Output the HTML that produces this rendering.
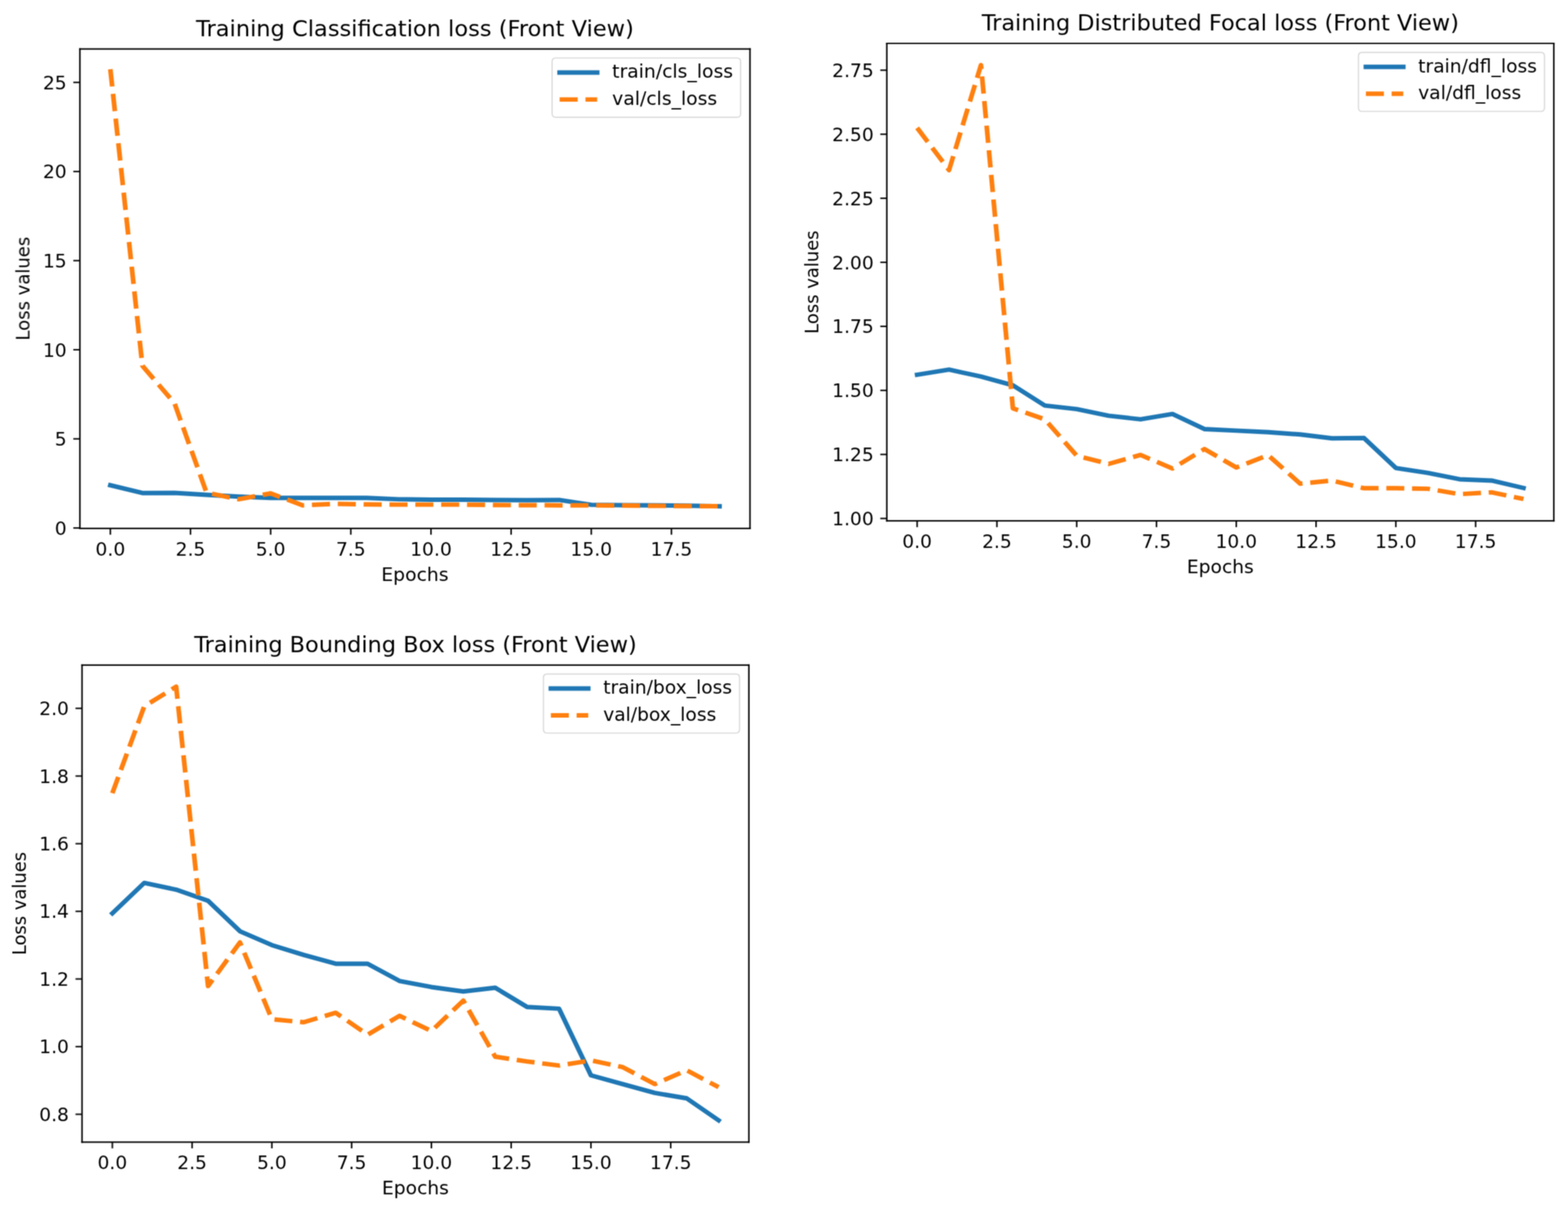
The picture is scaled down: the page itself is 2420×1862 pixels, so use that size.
<!DOCTYPE html>
<html><head><meta charset="utf-8"><title>Training losses</title>
<style>html,body{margin:0;padding:0;background:#fff;} body{width:2420px;height:1862px;overflow:hidden;} svg text{font-family:"DejaVu Sans","Liberation Sans",sans-serif;}</style>
</head><body><div id="wrap">
<svg id="fig" width="2420" height="1862" viewBox="0 0 2420 1862">
<defs><filter id="soft" x="0" y="0" width="2420" height="1862" filterUnits="userSpaceOnUse" color-interpolation-filters="sRGB"><feConvolveMatrix order="3" kernelMatrix="1 2 1 2 4 2 1 2 1" divisor="16" edgeMode="none"/></filter></defs>
<rect width="2420" height="1862" fill="#fff"/>
<g filter="url(#soft)">
<svg x="-43.51" y="-39.76" width="1334.45" height="961.30" viewBox="0 0 460.8 345.6" preserveAspectRatio="none" overflow="visible">
 <defs>
  <style type="text/css">*{stroke-linejoin: round; stroke-linecap: butt}</style>
 </defs>
 <g id="A1figure_1">
  <g id="A1axes_1">
   <g id="A1patch_1">
    <path d="M 57.6 307.584 
L 414.72 307.584 
L 414.72 41.472 
L 57.6 41.472 
L 57.6 307.584 
z
" style="fill: none"/>
   </g>
   <g id="A1matplotlib.axis_1">
    <g id="A1xtick_1">
     <g id="A1line2d_1">
      <defs>
       <path id="A1m1504cfccaf" d="M 0 0 
L 0 3.5 
" style="stroke: #000000; stroke-width: 0.8"/>
      </defs>
      <g>
       <use xlink:href="#A1m1504cfccaf" x="73.832727" y="307.584" style="stroke: #000000; stroke-width: 0.8"/>
      </g>
     </g>
     <g id="A1text_1">
      <text style="font-size: 10px; font-family: 'DejaVu Sans', sans-serif; text-anchor: middle" x="73.832727" y="322.582437" transform="rotate(-0 73.832727 322.582437)">0.0</text>
     </g>
    </g>
    <g id="A1xtick_2">
     <g id="A1line2d_2">
      <g>
       <use xlink:href="#A1m1504cfccaf" x="116.550431" y="307.584" style="stroke: #000000; stroke-width: 0.8"/>
      </g>
     </g>
     <g id="A1text_2">
      <text style="font-size: 10px; font-family: 'DejaVu Sans', sans-serif; text-anchor: middle" x="116.550431" y="322.582437" transform="rotate(-0 116.550431 322.582437)">2.5</text>
     </g>
    </g>
    <g id="A1xtick_3">
     <g id="A1line2d_3">
      <g>
       <use xlink:href="#A1m1504cfccaf" x="159.268134" y="307.584" style="stroke: #000000; stroke-width: 0.8"/>
      </g>
     </g>
     <g id="A1text_3">
      <text style="font-size: 10px; font-family: 'DejaVu Sans', sans-serif; text-anchor: middle" x="159.268134" y="322.582437" transform="rotate(-0 159.268134 322.582437)">5.0</text>
     </g>
    </g>
    <g id="A1xtick_4">
     <g id="A1line2d_4">
      <g>
       <use xlink:href="#A1m1504cfccaf" x="201.985837" y="307.584" style="stroke: #000000; stroke-width: 0.8"/>
      </g>
     </g>
     <g id="A1text_4">
      <text style="font-size: 10px; font-family: 'DejaVu Sans', sans-serif; text-anchor: middle" x="201.985837" y="322.582437" transform="rotate(-0 201.985837 322.582437)">7.5</text>
     </g>
    </g>
    <g id="A1xtick_5">
     <g id="A1line2d_5">
      <g>
       <use xlink:href="#A1m1504cfccaf" x="244.703541" y="307.584" style="stroke: #000000; stroke-width: 0.8"/>
      </g>
     </g>
     <g id="A1text_5">
      <text style="font-size: 10px; font-family: 'DejaVu Sans', sans-serif; text-anchor: middle" x="244.703541" y="322.582437" transform="rotate(-0 244.703541 322.582437)">10.0</text>
     </g>
    </g>
    <g id="A1xtick_6">
     <g id="A1line2d_6">
      <g>
       <use xlink:href="#A1m1504cfccaf" x="287.421244" y="307.584" style="stroke: #000000; stroke-width: 0.8"/>
      </g>
     </g>
     <g id="A1text_6">
      <text style="font-size: 10px; font-family: 'DejaVu Sans', sans-serif; text-anchor: middle" x="287.421244" y="322.582437" transform="rotate(-0 287.421244 322.582437)">12.5</text>
     </g>
    </g>
    <g id="A1xtick_7">
     <g id="A1line2d_7">
      <g>
       <use xlink:href="#A1m1504cfccaf" x="330.138947" y="307.584" style="stroke: #000000; stroke-width: 0.8"/>
      </g>
     </g>
     <g id="A1text_7">
      <text style="font-size: 10px; font-family: 'DejaVu Sans', sans-serif; text-anchor: middle" x="330.138947" y="322.582437" transform="rotate(-0 330.138947 322.582437)">15.0</text>
     </g>
    </g>
    <g id="A1xtick_8">
     <g id="A1line2d_8">
      <g>
       <use xlink:href="#A1m1504cfccaf" x="372.856651" y="307.584" style="stroke: #000000; stroke-width: 0.8"/>
      </g>
     </g>
     <g id="A1text_8">
      <text style="font-size: 10px; font-family: 'DejaVu Sans', sans-serif; text-anchor: middle" x="372.856651" y="322.582437" transform="rotate(-0 372.856651 322.582437)">17.5</text>
     </g>
    </g>
    <g id="A1text_9">
     <text style="font-size: 10px; font-family: 'DejaVu Sans', sans-serif; text-anchor: middle" x="236.16" y="336.760562" transform="rotate(-0 236.16 336.760562)">Epochs</text>
    </g>
   </g>
   <g id="A1matplotlib.axis_2">
    <g id="A1ytick_1">
     <g id="A1line2d_9">
      <defs>
       <path id="A1m5d545ce8f8" d="M 0 0 
L -3.5 0 
" style="stroke: #000000; stroke-width: 0.8"/>
      </defs>
      <g>
       <use xlink:href="#A1m5d545ce8f8" x="57.6" y="307.356461" style="stroke: #000000; stroke-width: 0.8"/>
      </g>
     </g>
     <g id="A1text_10">
      <text style="font-size: 10px; font-family: 'DejaVu Sans', sans-serif; text-anchor: end" x="50.6" y="311.15568" transform="rotate(-0 50.6 311.15568)">0</text>
     </g>
    </g>
    <g id="A1ytick_2">
     <g id="A1line2d_10">
      <g>
       <use xlink:href="#A1m5d545ce8f8" x="57.6" y="257.891425" style="stroke: #000000; stroke-width: 0.8"/>
      </g>
     </g>
     <g id="A1text_11">
      <text style="font-size: 10px; font-family: 'DejaVu Sans', sans-serif; text-anchor: end" x="50.6" y="261.690644" transform="rotate(-0 50.6 261.690644)">5</text>
     </g>
    </g>
    <g id="A1ytick_3">
     <g id="A1line2d_11">
      <g>
       <use xlink:href="#A1m5d545ce8f8" x="57.6" y="208.426389" style="stroke: #000000; stroke-width: 0.8"/>
      </g>
     </g>
     <g id="A1text_12">
      <text style="font-size: 10px; font-family: 'DejaVu Sans', sans-serif; text-anchor: end" x="50.6" y="212.225608" transform="rotate(-0 50.6 212.225608)">10</text>
     </g>
    </g>
    <g id="A1ytick_4">
     <g id="A1line2d_12">
      <g>
       <use xlink:href="#A1m5d545ce8f8" x="57.6" y="158.961353" style="stroke: #000000; stroke-width: 0.8"/>
      </g>
     </g>
     <g id="A1text_13">
      <text style="font-size: 10px; font-family: 'DejaVu Sans', sans-serif; text-anchor: end" x="50.6" y="162.760572" transform="rotate(-0 50.6 162.760572)">15</text>
     </g>
    </g>
    <g id="A1ytick_5">
     <g id="A1line2d_13">
      <g>
       <use xlink:href="#A1m5d545ce8f8" x="57.6" y="109.496317" style="stroke: #000000; stroke-width: 0.8"/>
      </g>
     </g>
     <g id="A1text_14">
      <text style="font-size: 10px; font-family: 'DejaVu Sans', sans-serif; text-anchor: end" x="50.6" y="113.295536" transform="rotate(-0 50.6 113.295536)">20</text>
     </g>
    </g>
    <g id="A1ytick_6">
     <g id="A1line2d_14">
      <g>
       <use xlink:href="#A1m5d545ce8f8" x="57.6" y="60.031281" style="stroke: #000000; stroke-width: 0.8"/>
      </g>
     </g>
     <g id="A1text_15">
      <text style="font-size: 10px; font-family: 'DejaVu Sans', sans-serif; text-anchor: end" x="50.6" y="63.8305" transform="rotate(-0 50.6 63.8305)">25</text>
     </g>
    </g>
    <g id="A1text_16">
     <text style="font-size: 10px; font-family: 'DejaVu Sans', sans-serif; text-anchor: middle" x="30.595312" y="174.528" transform="rotate(-90 30.595312 174.528)">Loss values</text>
    </g>
   </g>
   <g id="A1line2d_15">
    <path d="M 73.832727 283.613244 
L 90.919809 287.966167 
L 108.00689 287.867237 
L 125.093971 288.955467 
L 142.181053 289.944768 
L 159.268134 290.637279 
L 176.355215 290.686744 
L 193.442297 290.686744 
L 210.529378 290.686744 
L 227.616459 291.428719 
L 244.703541 291.626579 
L 261.790622 291.626579 
L 278.877703 291.804654 
L 295.964785 291.92337 
L 313.051866 291.804654 
L 330.138947 294.495552 
L 347.226029 294.693412 
L 364.31311 294.792342 
L 381.400191 294.990202 
L 398.487273 295.286992 
" clip-path="url(#A1p02d3b5d28d)" style="fill: none; stroke: #1f77b4; stroke-width: 2.5; stroke-linecap: square"/>
   </g>
   <g id="A1line2d_16">
    <path d="M 73.832727 52.710456 
L 90.919809 217.330096 
L 108.00689 238.105411 
L 125.093971 287.768307 
L 142.181053 291.428719 
L 159.268134 288.164027 
L 176.355215 294.792342 
L 193.442297 294.000901 
L 210.529378 294.297691 
L 227.616459 294.396621 
L 244.703541 294.396621 
L 261.790622 294.396621 
L 278.877703 294.643947 
L 295.964785 294.693412 
L 313.051866 294.792342 
L 330.138947 294.792342 
L 347.226029 294.891272 
L 364.31311 295.089132 
L 381.400191 295.188062 
L 398.487273 295.286992 
" clip-path="url(#A1p02d3b5d28d)" style="fill: none; stroke-dasharray: 9.625,4.15; stroke-dashoffset: 0; stroke: #ff7f0e; stroke-width: 2.5"/>
   </g>
   <g id="A1patch_2">
    <path d="M 57.6 307.584 
L 57.6 41.472 
" style="fill: none; stroke: #000000; stroke-width: 0.8; stroke-linejoin: miter; stroke-linecap: square"/>
   </g>
   <g id="A1patch_3">
    <path d="M 414.72 307.584 
L 414.72 41.472 
" style="fill: none; stroke: #000000; stroke-width: 0.8; stroke-linejoin: miter; stroke-linecap: square"/>
   </g>
   <g id="A1patch_4">
    <path d="M 57.6 307.584 
L 414.72 307.584 
" style="fill: none; stroke: #000000; stroke-width: 0.8; stroke-linejoin: miter; stroke-linecap: square"/>
   </g>
   <g id="A1patch_5">
    <path d="M 57.6 41.472 
L 414.72 41.472 
" style="fill: none; stroke: #000000; stroke-width: 0.8; stroke-linejoin: miter; stroke-linecap: square"/>
   </g>
   <g id="A1text_17">
    <text style="font-size: 12px; font-family: 'DejaVu Sans', sans-serif; text-anchor: middle" x="236.16" y="34.372" transform="rotate(-0 236.16 34.372)">Training Classification loss (Front View)</text>
   </g>
   <g id="A1legend_1">
    <g id="A1patch_6">
     <path d="M 311.274688 79.3845 
L 407.72 79.3845 
Q 409.72 79.3845 409.72 77.3845 
L 409.72 48.472 
Q 409.72 46.472 407.72 46.472 
L 311.274688 46.472 
Q 309.274688 46.472 309.274688 48.472 
L 309.274688 77.3845 
Q 309.274688 79.3845 311.274688 79.3845 
z
" style="fill: #ffffff; opacity: 0.8; stroke: #cccccc; stroke-width: 0.6; stroke-linejoin: miter"/>
    </g>
    <g id="A1line2d_17">
     <path d="M 313.274688 54.570438 
L 323.274688 54.570438 
L 333.274688 54.570438 
" style="fill: none; stroke: #1f77b4; stroke-width: 2.5; stroke-linecap: square"/>
    </g>
    <g id="A1text_18">
     <text style="font-size: 10px; font-family: 'DejaVu Sans', sans-serif; text-anchor: start" x="341.274688" y="57.570438" transform="rotate(-0 341.274688 57.570438)">train/cls_loss</text>
    </g>
    <g id="A1line2d_18">
     <path d="M 313.274688 69.526688 
L 323.274688 69.526688 
L 333.274688 69.526688 
" style="fill: none; stroke-dasharray: 9.625,4.15; stroke-dashoffset: 0; stroke: #ff7f0e; stroke-width: 2.5"/>
    </g>
    <g id="A1text_19">
     <text style="font-size: 10px; font-family: 'DejaVu Sans', sans-serif; text-anchor: start" x="341.274688" y="72.526688" transform="rotate(-0 341.274688 72.526688)">val/cls_loss</text>
    </g>
   </g>
  </g>
 </g>
 <defs>
  <clipPath id="A1p02d3b5d28d">
   <rect x="57.6" y="41.472" width="357.12" height="266.112"/>
  </clipPath>
 </defs>
</svg>
<svg x="1202.67" y="-47.89" width="1328.26" height="957.40" viewBox="0 0 460.8 345.6" preserveAspectRatio="none" overflow="visible">
 <defs>
  <style type="text/css">*{stroke-linejoin: round; stroke-linecap: butt}</style>
 </defs>
 <g id="A2figure_1">
  <g id="A2axes_1">
   <g id="A2patch_1">
    <path d="M 57.6 307.584 
L 414.72 307.584 
L 414.72 41.472 
L 57.6 41.472 
L 57.6 307.584 
z
" style="fill: none"/>
   </g>
   <g id="A2matplotlib.axis_1">
    <g id="A2xtick_1">
     <g id="A2line2d_1">
      <defs>
       <path id="A2m1504cfccaf" d="M 0 0 
L 0 3.5 
" style="stroke: #000000; stroke-width: 0.8"/>
      </defs>
      <g>
       <use xlink:href="#A2m1504cfccaf" x="73.832727" y="307.584" style="stroke: #000000; stroke-width: 0.8"/>
      </g>
     </g>
     <g id="A2text_1">
      <text style="font-size: 10px; font-family: 'DejaVu Sans', sans-serif; text-anchor: middle" x="73.832727" y="322.582437" transform="rotate(-0 73.832727 322.582437)">0.0</text>
     </g>
    </g>
    <g id="A2xtick_2">
     <g id="A2line2d_2">
      <g>
       <use xlink:href="#A2m1504cfccaf" x="116.550431" y="307.584" style="stroke: #000000; stroke-width: 0.8"/>
      </g>
     </g>
     <g id="A2text_2">
      <text style="font-size: 10px; font-family: 'DejaVu Sans', sans-serif; text-anchor: middle" x="116.550431" y="322.582437" transform="rotate(-0 116.550431 322.582437)">2.5</text>
     </g>
    </g>
    <g id="A2xtick_3">
     <g id="A2line2d_3">
      <g>
       <use xlink:href="#A2m1504cfccaf" x="159.268134" y="307.584" style="stroke: #000000; stroke-width: 0.8"/>
      </g>
     </g>
     <g id="A2text_3">
      <text style="font-size: 10px; font-family: 'DejaVu Sans', sans-serif; text-anchor: middle" x="159.268134" y="322.582437" transform="rotate(-0 159.268134 322.582437)">5.0</text>
     </g>
    </g>
    <g id="A2xtick_4">
     <g id="A2line2d_4">
      <g>
       <use xlink:href="#A2m1504cfccaf" x="201.985837" y="307.584" style="stroke: #000000; stroke-width: 0.8"/>
      </g>
     </g>
     <g id="A2text_4">
      <text style="font-size: 10px; font-family: 'DejaVu Sans', sans-serif; text-anchor: middle" x="201.985837" y="322.582437" transform="rotate(-0 201.985837 322.582437)">7.5</text>
     </g>
    </g>
    <g id="A2xtick_5">
     <g id="A2line2d_5">
      <g>
       <use xlink:href="#A2m1504cfccaf" x="244.703541" y="307.584" style="stroke: #000000; stroke-width: 0.8"/>
      </g>
     </g>
     <g id="A2text_5">
      <text style="font-size: 10px; font-family: 'DejaVu Sans', sans-serif; text-anchor: middle" x="244.703541" y="322.582437" transform="rotate(-0 244.703541 322.582437)">10.0</text>
     </g>
    </g>
    <g id="A2xtick_6">
     <g id="A2line2d_6">
      <g>
       <use xlink:href="#A2m1504cfccaf" x="287.421244" y="307.584" style="stroke: #000000; stroke-width: 0.8"/>
      </g>
     </g>
     <g id="A2text_6">
      <text style="font-size: 10px; font-family: 'DejaVu Sans', sans-serif; text-anchor: middle" x="287.421244" y="322.582437" transform="rotate(-0 287.421244 322.582437)">12.5</text>
     </g>
    </g>
    <g id="A2xtick_7">
     <g id="A2line2d_7">
      <g>
       <use xlink:href="#A2m1504cfccaf" x="330.138947" y="307.584" style="stroke: #000000; stroke-width: 0.8"/>
      </g>
     </g>
     <g id="A2text_7">
      <text style="font-size: 10px; font-family: 'DejaVu Sans', sans-serif; text-anchor: middle" x="330.138947" y="322.582437" transform="rotate(-0 330.138947 322.582437)">15.0</text>
     </g>
    </g>
    <g id="A2xtick_8">
     <g id="A2line2d_8">
      <g>
       <use xlink:href="#A2m1504cfccaf" x="372.856651" y="307.584" style="stroke: #000000; stroke-width: 0.8"/>
      </g>
     </g>
     <g id="A2text_8">
      <text style="font-size: 10px; font-family: 'DejaVu Sans', sans-serif; text-anchor: middle" x="372.856651" y="322.582437" transform="rotate(-0 372.856651 322.582437)">17.5</text>
     </g>
    </g>
    <g id="A2text_9">
     <text style="font-size: 10px; font-family: 'DejaVu Sans', sans-serif; text-anchor: middle" x="236.16" y="336.760562" transform="rotate(-0 236.16 336.760562)">Epochs</text>
    </g>
   </g>
   <g id="A2matplotlib.axis_2">
    <g id="A2ytick_1">
     <g id="A2line2d_9">
      <defs>
       <path id="A2m5d545ce8f8" d="M 0 0 
L -3.5 0 
" style="stroke: #000000; stroke-width: 0.8"/>
      </defs>
      <g>
       <use xlink:href="#A2m5d545ce8f8" x="57.6" y="306.247701" style="stroke: #000000; stroke-width: 0.8"/>
      </g>
     </g>
     <g id="A2text_10">
      <text style="font-size: 10px; font-family: 'DejaVu Sans', sans-serif; text-anchor: end" x="50.6" y="310.04692" transform="rotate(-0 50.6 310.04692)">1.00</text>
     </g>
    </g>
    <g id="A2ytick_2">
     <g id="A2line2d_10">
      <g>
       <use xlink:href="#A2m5d545ce8f8" x="57.6" y="270.555948" style="stroke: #000000; stroke-width: 0.8"/>
      </g>
     </g>
     <g id="A2text_11">
      <text style="font-size: 10px; font-family: 'DejaVu Sans', sans-serif; text-anchor: end" x="50.6" y="274.355166" transform="rotate(-0 50.6 274.355166)">1.25</text>
     </g>
    </g>
    <g id="A2ytick_3">
     <g id="A2line2d_11">
      <g>
       <use xlink:href="#A2m5d545ce8f8" x="57.6" y="234.864195" style="stroke: #000000; stroke-width: 0.8"/>
      </g>
     </g>
     <g id="A2text_12">
      <text style="font-size: 10px; font-family: 'DejaVu Sans', sans-serif; text-anchor: end" x="50.6" y="238.663413" transform="rotate(-0 50.6 238.663413)">1.50</text>
     </g>
    </g>
    <g id="A2ytick_4">
     <g id="A2line2d_12">
      <g>
       <use xlink:href="#A2m5d545ce8f8" x="57.6" y="199.172442" style="stroke: #000000; stroke-width: 0.8"/>
      </g>
     </g>
     <g id="A2text_13">
      <text style="font-size: 10px; font-family: 'DejaVu Sans', sans-serif; text-anchor: end" x="50.6" y="202.97166" transform="rotate(-0 50.6 202.97166)">1.75</text>
     </g>
    </g>
    <g id="A2ytick_5">
     <g id="A2line2d_13">
      <g>
       <use xlink:href="#A2m5d545ce8f8" x="57.6" y="163.480689" style="stroke: #000000; stroke-width: 0.8"/>
      </g>
     </g>
     <g id="A2text_14">
      <text style="font-size: 10px; font-family: 'DejaVu Sans', sans-serif; text-anchor: end" x="50.6" y="167.279907" transform="rotate(-0 50.6 167.279907)">2.00</text>
     </g>
    </g>
    <g id="A2ytick_6">
     <g id="A2line2d_14">
      <g>
       <use xlink:href="#A2m5d545ce8f8" x="57.6" y="127.788936" style="stroke: #000000; stroke-width: 0.8"/>
      </g>
     </g>
     <g id="A2text_15">
      <text style="font-size: 10px; font-family: 'DejaVu Sans', sans-serif; text-anchor: end" x="50.6" y="131.588154" transform="rotate(-0 50.6 131.588154)">2.25</text>
     </g>
    </g>
    <g id="A2ytick_7">
     <g id="A2line2d_15">
      <g>
       <use xlink:href="#A2m5d545ce8f8" x="57.6" y="92.097183" style="stroke: #000000; stroke-width: 0.8"/>
      </g>
     </g>
     <g id="A2text_16">
      <text style="font-size: 10px; font-family: 'DejaVu Sans', sans-serif; text-anchor: end" x="50.6" y="95.896401" transform="rotate(-0 50.6 95.896401)">2.50</text>
     </g>
    </g>
    <g id="A2ytick_8">
     <g id="A2line2d_16">
      <g>
       <use xlink:href="#A2m5d545ce8f8" x="57.6" y="56.405429" style="stroke: #000000; stroke-width: 0.8"/>
      </g>
     </g>
     <g id="A2text_17">
      <text style="font-size: 10px; font-family: 'DejaVu Sans', sans-serif; text-anchor: end" x="50.6" y="60.204648" transform="rotate(-0 50.6 60.204648)">2.75</text>
     </g>
    </g>
    <g id="A2text_18">
     <text style="font-size: 10px; font-family: 'DejaVu Sans', sans-serif; text-anchor: middle" x="21.054688" y="174.528" transform="rotate(-90 21.054688 174.528)">Loss values</text>
    </g>
   </g>
   <g id="A2line2d_17">
    <path d="M 73.832727 226.155407 
L 90.919809 223.300067 
L 108.00689 227.154776 
L 125.093971 232.008854 
L 142.181053 243.287448 
L 159.268134 245.286187 
L 176.355215 248.998129 
L 193.442297 250.996867 
L 210.529378 247.99876 
L 227.616459 256.422014 
L 244.703541 257.278616 
L 261.790622 258.135218 
L 278.877703 259.420121 
L 295.964785 261.561626 
L 313.051866 261.418859 
L 330.138947 278.122599 
L 347.226029 280.835173 
L 364.31311 284.404348 
L 381.400191 285.118183 
L 398.487273 289.258426 
" clip-path="url(#A2p02d3b5d28d)" style="fill: none; stroke: #1f77b4; stroke-width: 2.5; stroke-linecap: square"/>
   </g>
   <g id="A2line2d_18">
    <path d="M 73.832727 88.528007 
L 90.919809 112.084564 
L 108.00689 53.550089 
L 125.093971 244.857886 
L 142.181053 250.996867 
L 159.268134 271.269783 
L 176.355215 275.838327 
L 193.442297 270.841482 
L 210.529378 278.408133 
L 227.616459 267.55784 
L 244.703541 277.837065 
L 261.790622 270.984249 
L 278.877703 286.831387 
L 295.964785 285.118183 
L 313.051866 289.401193 
L 330.138947 289.401193 
L 347.226029 289.686727 
L 364.31311 292.684835 
L 381.400191 291.685466 
L 398.487273 295.397408 
" clip-path="url(#A2p02d3b5d28d)" style="fill: none; stroke-dasharray: 9.625,4.15; stroke-dashoffset: 0; stroke: #ff7f0e; stroke-width: 2.5"/>
   </g>
   <g id="A2patch_2">
    <path d="M 57.6 307.584 
L 57.6 41.472 
" style="fill: none; stroke: #000000; stroke-width: 0.8; stroke-linejoin: miter; stroke-linecap: square"/>
   </g>
   <g id="A2patch_3">
    <path d="M 414.72 307.584 
L 414.72 41.472 
" style="fill: none; stroke: #000000; stroke-width: 0.8; stroke-linejoin: miter; stroke-linecap: square"/>
   </g>
   <g id="A2patch_4">
    <path d="M 57.6 307.584 
L 414.72 307.584 
" style="fill: none; stroke: #000000; stroke-width: 0.8; stroke-linejoin: miter; stroke-linecap: square"/>
   </g>
   <g id="A2patch_5">
    <path d="M 57.6 41.472 
L 414.72 41.472 
" style="fill: none; stroke: #000000; stroke-width: 0.8; stroke-linejoin: miter; stroke-linecap: square"/>
   </g>
   <g id="A2text_19">
    <text style="font-size: 12px; font-family: 'DejaVu Sans', sans-serif; text-anchor: middle" x="236.16" y="34.372" transform="rotate(-0 236.16 34.372)">Training Distributed Focal loss (Front View)</text>
   </g>
   <g id="A2legend_1">
    <g id="A2patch_6">
     <path d="M 312.11375 79.3845 
L 407.72 79.3845 
Q 409.72 79.3845 409.72 77.3845 
L 409.72 48.472 
Q 409.72 46.472 407.72 46.472 
L 312.11375 46.472 
Q 310.11375 46.472 310.11375 48.472 
L 310.11375 77.3845 
Q 310.11375 79.3845 312.11375 79.3845 
z
" style="fill: #ffffff; opacity: 0.8; stroke: #cccccc; stroke-width: 0.6; stroke-linejoin: miter"/>
    </g>
    <g id="A2line2d_19">
     <path d="M 314.11375 54.570438 
L 324.11375 54.570438 
L 334.11375 54.570438 
" style="fill: none; stroke: #1f77b4; stroke-width: 2.5; stroke-linecap: square"/>
    </g>
    <g id="A2text_20">
     <text style="font-size: 10px; font-family: 'DejaVu Sans', sans-serif; text-anchor: start" x="342.11375" y="57.570438" transform="rotate(-0 342.11375 57.570438)">train/dfl_loss</text>
    </g>
    <g id="A2line2d_20">
     <path d="M 314.11375 69.526688 
L 324.11375 69.526688 
L 334.11375 69.526688 
" style="fill: none; stroke-dasharray: 9.625,4.15; stroke-dashoffset: 0; stroke: #ff7f0e; stroke-width: 2.5"/>
    </g>
    <g id="A2text_21">
     <text style="font-size: 10px; font-family: 'DejaVu Sans', sans-serif; text-anchor: start" x="342.11375" y="72.526688" transform="rotate(-0 342.11375 72.526688)">val/dfl_loss</text>
    </g>
   </g>
  </g>
 </g>
 <defs>
  <clipPath id="A2p02d3b5d28d">
   <rect x="57.6" y="41.472" width="357.12" height="266.112"/>
  </clipPath>
 </defs>
</svg>
<svg x="-39.40" y="912.02" width="1328.00" height="956.49" viewBox="0 0 460.8 345.6" preserveAspectRatio="none" overflow="visible">
 <defs>
  <style type="text/css">*{stroke-linejoin: round; stroke-linecap: butt}</style>
 </defs>
 <g id="A3figure_1">
  <g id="A3axes_1">
   <g id="A3patch_1">
    <path d="M 57.6 307.584 
L 414.72 307.584 
L 414.72 41.472 
L 57.6 41.472 
L 57.6 307.584 
z
" style="fill: none"/>
   </g>
   <g id="A3matplotlib.axis_1">
    <g id="A3xtick_1">
     <g id="A3line2d_1">
      <defs>
       <path id="A3m1504cfccaf" d="M 0 0 
L 0 3.5 
" style="stroke: #000000; stroke-width: 0.8"/>
      </defs>
      <g>
       <use xlink:href="#A3m1504cfccaf" x="73.832727" y="307.584" style="stroke: #000000; stroke-width: 0.8"/>
      </g>
     </g>
     <g id="A3text_1">
      <text style="font-size: 10px; font-family: 'DejaVu Sans', sans-serif; text-anchor: middle" x="73.832727" y="322.582437" transform="rotate(-0 73.832727 322.582437)">0.0</text>
     </g>
    </g>
    <g id="A3xtick_2">
     <g id="A3line2d_2">
      <g>
       <use xlink:href="#A3m1504cfccaf" x="116.550431" y="307.584" style="stroke: #000000; stroke-width: 0.8"/>
      </g>
     </g>
     <g id="A3text_2">
      <text style="font-size: 10px; font-family: 'DejaVu Sans', sans-serif; text-anchor: middle" x="116.550431" y="322.582437" transform="rotate(-0 116.550431 322.582437)">2.5</text>
     </g>
    </g>
    <g id="A3xtick_3">
     <g id="A3line2d_3">
      <g>
       <use xlink:href="#A3m1504cfccaf" x="159.268134" y="307.584" style="stroke: #000000; stroke-width: 0.8"/>
      </g>
     </g>
     <g id="A3text_3">
      <text style="font-size: 10px; font-family: 'DejaVu Sans', sans-serif; text-anchor: middle" x="159.268134" y="322.582437" transform="rotate(-0 159.268134 322.582437)">5.0</text>
     </g>
    </g>
    <g id="A3xtick_4">
     <g id="A3line2d_4">
      <g>
       <use xlink:href="#A3m1504cfccaf" x="201.985837" y="307.584" style="stroke: #000000; stroke-width: 0.8"/>
      </g>
     </g>
     <g id="A3text_4">
      <text style="font-size: 10px; font-family: 'DejaVu Sans', sans-serif; text-anchor: middle" x="201.985837" y="322.582437" transform="rotate(-0 201.985837 322.582437)">7.5</text>
     </g>
    </g>
    <g id="A3xtick_5">
     <g id="A3line2d_5">
      <g>
       <use xlink:href="#A3m1504cfccaf" x="244.703541" y="307.584" style="stroke: #000000; stroke-width: 0.8"/>
      </g>
     </g>
     <g id="A3text_5">
      <text style="font-size: 10px; font-family: 'DejaVu Sans', sans-serif; text-anchor: middle" x="244.703541" y="322.582437" transform="rotate(-0 244.703541 322.582437)">10.0</text>
     </g>
    </g>
    <g id="A3xtick_6">
     <g id="A3line2d_6">
      <g>
       <use xlink:href="#A3m1504cfccaf" x="287.421244" y="307.584" style="stroke: #000000; stroke-width: 0.8"/>
      </g>
     </g>
     <g id="A3text_6">
      <text style="font-size: 10px; font-family: 'DejaVu Sans', sans-serif; text-anchor: middle" x="287.421244" y="322.582437" transform="rotate(-0 287.421244 322.582437)">12.5</text>
     </g>
    </g>
    <g id="A3xtick_7">
     <g id="A3line2d_7">
      <g>
       <use xlink:href="#A3m1504cfccaf" x="330.138947" y="307.584" style="stroke: #000000; stroke-width: 0.8"/>
      </g>
     </g>
     <g id="A3text_7">
      <text style="font-size: 10px; font-family: 'DejaVu Sans', sans-serif; text-anchor: middle" x="330.138947" y="322.582437" transform="rotate(-0 330.138947 322.582437)">15.0</text>
     </g>
    </g>
    <g id="A3xtick_8">
     <g id="A3line2d_8">
      <g>
       <use xlink:href="#A3m1504cfccaf" x="372.856651" y="307.584" style="stroke: #000000; stroke-width: 0.8"/>
      </g>
     </g>
     <g id="A3text_8">
      <text style="font-size: 10px; font-family: 'DejaVu Sans', sans-serif; text-anchor: middle" x="372.856651" y="322.582437" transform="rotate(-0 372.856651 322.582437)">17.5</text>
     </g>
    </g>
    <g id="A3text_9">
     <text style="font-size: 10px; font-family: 'DejaVu Sans', sans-serif; text-anchor: middle" x="236.16" y="336.760562" transform="rotate(-0 236.16 336.760562)">Epochs</text>
    </g>
   </g>
   <g id="A3matplotlib.axis_2">
    <g id="A3ytick_1">
     <g id="A3line2d_9">
      <defs>
       <path id="A3m5d545ce8f8" d="M 0 0 
L -3.5 0 
" style="stroke: #000000; stroke-width: 0.8"/>
      </defs>
      <g>
       <use xlink:href="#A3m5d545ce8f8" x="57.6" y="292.054668" style="stroke: #000000; stroke-width: 0.8"/>
      </g>
     </g>
     <g id="A3text_10">
      <text style="font-size: 10px; font-family: 'DejaVu Sans', sans-serif; text-anchor: end" x="50.6" y="295.853886" transform="rotate(-0 50.6 295.853886)">0.8</text>
     </g>
    </g>
    <g id="A3ytick_2">
     <g id="A3line2d_10">
      <g>
       <use xlink:href="#A3m5d545ce8f8" x="57.6" y="254.316314" style="stroke: #000000; stroke-width: 0.8"/>
      </g>
     </g>
     <g id="A3text_11">
      <text style="font-size: 10px; font-family: 'DejaVu Sans', sans-serif; text-anchor: end" x="50.6" y="258.115533" transform="rotate(-0 50.6 258.115533)">1.0</text>
     </g>
    </g>
    <g id="A3ytick_3">
     <g id="A3line2d_11">
      <g>
       <use xlink:href="#A3m5d545ce8f8" x="57.6" y="216.57796" style="stroke: #000000; stroke-width: 0.8"/>
      </g>
     </g>
     <g id="A3text_12">
      <text style="font-size: 10px; font-family: 'DejaVu Sans', sans-serif; text-anchor: end" x="50.6" y="220.377179" transform="rotate(-0 50.6 220.377179)">1.2</text>
     </g>
    </g>
    <g id="A3ytick_4">
     <g id="A3line2d_12">
      <g>
       <use xlink:href="#A3m5d545ce8f8" x="57.6" y="178.839607" style="stroke: #000000; stroke-width: 0.8"/>
      </g>
     </g>
     <g id="A3text_13">
      <text style="font-size: 10px; font-family: 'DejaVu Sans', sans-serif; text-anchor: end" x="50.6" y="182.638826" transform="rotate(-0 50.6 182.638826)">1.4</text>
     </g>
    </g>
    <g id="A3ytick_5">
     <g id="A3line2d_13">
      <g>
       <use xlink:href="#A3m5d545ce8f8" x="57.6" y="141.101253" style="stroke: #000000; stroke-width: 0.8"/>
      </g>
     </g>
     <g id="A3text_14">
      <text style="font-size: 10px; font-family: 'DejaVu Sans', sans-serif; text-anchor: end" x="50.6" y="144.900472" transform="rotate(-0 50.6 144.900472)">1.6</text>
     </g>
    </g>
    <g id="A3ytick_6">
     <g id="A3line2d_14">
      <g>
       <use xlink:href="#A3m5d545ce8f8" x="57.6" y="103.3629" style="stroke: #000000; stroke-width: 0.8"/>
      </g>
     </g>
     <g id="A3text_15">
      <text style="font-size: 10px; font-family: 'DejaVu Sans', sans-serif; text-anchor: end" x="50.6" y="107.162119" transform="rotate(-0 50.6 107.162119)">1.8</text>
     </g>
    </g>
    <g id="A3ytick_7">
     <g id="A3line2d_15">
      <g>
       <use xlink:href="#A3m5d545ce8f8" x="57.6" y="65.624546" style="stroke: #000000; stroke-width: 0.8"/>
      </g>
     </g>
     <g id="A3text_16">
      <text style="font-size: 10px; font-family: 'DejaVu Sans', sans-serif; text-anchor: end" x="50.6" y="69.423765" transform="rotate(-0 50.6 69.423765)">2.0</text>
     </g>
    </g>
    <g id="A3text_17">
     <text style="font-size: 10px; font-family: 'DejaVu Sans', sans-serif; text-anchor: middle" x="27.417187" y="174.528" transform="rotate(-90 27.417187 174.528)">Loss values</text>
    </g>
   </g>
   <g id="A3line2d_16">
    <path d="M 73.832727 179.971757 
L 90.919809 162.989498 
L 108.00689 166.763334 
L 125.093971 172.990162 
L 142.181053 189.972421 
L 159.268134 197.708784 
L 176.355215 203.180845 
L 193.442297 208.086831 
L 210.529378 208.086831 
L 227.616459 217.710111 
L 244.703541 221.106563 
L 261.790622 223.559556 
L 278.877703 221.483946 
L 295.964785 232.239377 
L 313.051866 233.182836 
L 330.138947 270.355114 
L 347.226029 275.2611 
L 364.31311 280.167086 
L 381.400191 283.186154 
L 398.487273 295.451119 
" clip-path="url(#A3p02d3b5d28d)" style="fill: none; stroke: #1f77b4; stroke-width: 2.5; stroke-linecap: square"/>
   </g>
   <g id="A3line2d_17">
    <path d="M 73.832727 112.98618 
L 90.919809 64.492396 
L 108.00689 53.548273 
L 125.093971 220.540488 
L 142.181053 196.19925 
L 159.268134 239.032281 
L 176.355215 240.730507 
L 193.442297 235.447137 
L 210.529378 247.712102 
L 227.616459 237.145363 
L 244.703541 245.636493 
L 261.790622 228.654234 
L 278.877703 259.977067 
L 295.964785 262.618752 
L 313.051866 264.883053 
L 330.138947 262.052676 
L 347.226029 265.826512 
L 364.31311 275.2611 
L 381.400191 267.524738 
L 398.487273 276.959326 
" clip-path="url(#A3p02d3b5d28d)" style="fill: none; stroke-dasharray: 9.625,4.15; stroke-dashoffset: 0; stroke: #ff7f0e; stroke-width: 2.5"/>
   </g>
   <g id="A3patch_2">
    <path d="M 57.6 307.584 
L 57.6 41.472 
" style="fill: none; stroke: #000000; stroke-width: 0.8; stroke-linejoin: miter; stroke-linecap: square"/>
   </g>
   <g id="A3patch_3">
    <path d="M 414.72 307.584 
L 414.72 41.472 
" style="fill: none; stroke: #000000; stroke-width: 0.8; stroke-linejoin: miter; stroke-linecap: square"/>
   </g>
   <g id="A3patch_4">
    <path d="M 57.6 307.584 
L 414.72 307.584 
" style="fill: none; stroke: #000000; stroke-width: 0.8; stroke-linejoin: miter; stroke-linecap: square"/>
   </g>
   <g id="A3patch_5">
    <path d="M 57.6 41.472 
L 414.72 41.472 
" style="fill: none; stroke: #000000; stroke-width: 0.8; stroke-linejoin: miter; stroke-linecap: square"/>
   </g>
   <g id="A3text_18">
    <text style="font-size: 12px; font-family: 'DejaVu Sans', sans-serif; text-anchor: middle" x="236.16" y="34.372" transform="rotate(-0 236.16 34.372)">Training Bounding Box loss (Front View)</text>
   </g>
   <g id="A3legend_1">
    <g id="A3patch_6">
     <path d="M 306.687187 79.3845 
L 407.72 79.3845 
Q 409.72 79.3845 409.72 77.3845 
L 409.72 48.472 
Q 409.72 46.472 407.72 46.472 
L 306.687187 46.472 
Q 304.687187 46.472 304.687187 48.472 
L 304.687187 77.3845 
Q 304.687187 79.3845 306.687187 79.3845 
z
" style="fill: #ffffff; opacity: 0.8; stroke: #cccccc; stroke-width: 0.6; stroke-linejoin: miter"/>
    </g>
    <g id="A3line2d_18">
     <path d="M 308.687187 54.570438 
L 318.687187 54.570438 
L 328.687187 54.570438 
" style="fill: none; stroke: #1f77b4; stroke-width: 2.5; stroke-linecap: square"/>
    </g>
    <g id="A3text_19">
     <text style="font-size: 10px; font-family: 'DejaVu Sans', sans-serif; text-anchor: start" x="336.687187" y="57.570438" transform="rotate(-0 336.687187 57.570438)">train/box_loss</text>
    </g>
    <g id="A3line2d_19">
     <path d="M 308.687187 69.526688 
L 318.687187 69.526688 
L 328.687187 69.526688 
" style="fill: none; stroke-dasharray: 9.625,4.15; stroke-dashoffset: 0; stroke: #ff7f0e; stroke-width: 2.5"/>
    </g>
    <g id="A3text_20">
     <text style="font-size: 10px; font-family: 'DejaVu Sans', sans-serif; text-anchor: start" x="336.687187" y="72.526688" transform="rotate(-0 336.687187 72.526688)">val/box_loss</text>
    </g>
   </g>
  </g>
 </g>
 <defs>
  <clipPath id="A3p02d3b5d28d">
   <rect x="57.6" y="41.472" width="357.12" height="266.112"/>
  </clipPath>
 </defs>
</svg>

</g>
</svg></div>
</body></html>
